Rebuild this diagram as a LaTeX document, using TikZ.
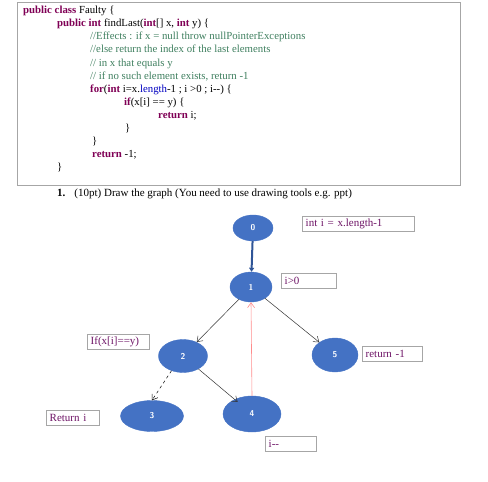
\documentclass[tikz,border=0pt]{standalone}
\usepackage{fontspec}
\setmainfont{Liberation Serif}
\usetikzlibrary{arrows.meta,shapes.geometric}

\definecolor{kwcol}{HTML}{7F0055}
\definecolor{cmtcol}{HTML}{3F7F5F}
\definecolor{fldcol}{HTML}{0000C0}
\definecolor{nodeblue}{HTML}{4472C4}
\definecolor{edgeblue}{HTML}{2F5597}
\definecolor{labcol}{HTML}{6E1466}

\newcommand{\kw}[1]{\textbf{\textcolor{kwcol}{#1}}}
\newcommand{\cmt}[1]{\textcolor{cmtcol}{#1}}

\begin{document}
\begin{tikzpicture}[
    x=1pt, y=-1pt,
    state/.style={ellipse, draw=nodeblue, fill=nodeblue, text=white, inner sep=0pt, font=\sffamily\bfseries\fontsize{8.5}{9}\selectfont},
    lbl/.style={rectangle, draw=gray!70, fill=white, anchor=north west, inner xsep=3.5pt, inner ysep=2pt, minimum height=15pt, align=left, text=labcol, font=\fontsize{11}{12}\selectfont},
    arrow/.style={-{Straight Barb[length=5pt,width=7pt]}, draw=black!80, line width=0.5pt},
    thickarrow/.style={-{Triangle[length=4pt,width=5pt]}, draw=edgeblue, line width=2pt},
    back/.style={-{Straight Barb[length=5pt,width=7pt]}, draw=red!45, line width=0.6pt}
]
\useasboundingbox (0,0) rectangle (488,482);

% Code box
\node[draw=gray!70, line width=1pt, minimum width=443pt, minimum height=183pt, anchor=north west] (codebox) at (17,2) {};
\node[anchor=north west, inner sep=0pt, align=left, font=\fontsize{10.8}{13.1}\selectfont] (code) at (23,6) {%
\kw{public class} Faulty \{\\
\hspace*{34pt}\kw{public int} findLast(\kw{int}[] x, \kw{int} y) \{\\
\hspace*{67pt}\cmt{//Effects : if x = null throw nullPointerExceptions}\\
\hspace*{67pt}\cmt{//else return the index of the last elements}\\
\hspace*{67pt}\cmt{// in x that equals y}\\
\hspace*{67pt}\cmt{// if no such element exists, return -1}\\
\hspace*{67pt}\kw{for}(\kw{int} i=x.\textcolor{fldcol}{length}-1 ; i >0 ; i-{}-) \{\\
\hspace*{101pt}\kw{if}(x[i] == y) \{\\
\hspace*{135pt}\kw{return} i;\\
\hspace*{102pt}\}\\
\hspace*{69pt}\}\\
\hspace*{69pt}\kw{return} -1;\\
\hspace*{34pt}\}};

% Question
\node[anchor=base west, inner sep=0pt, font=\fontsize{11}{12}\selectfont] (question) at (57,196) {\textbf{1.}\hspace{9pt}(10pt) Draw the graph (You need to use drawing tools e.g. ppt)};

% Nodes
\node[state, minimum width=40pt, minimum height=26pt] (n0) at (253,228) {0};
\node[state, minimum width=42pt, minimum height=30pt] (n1) at (251,287) {1};
\node[state, minimum width=49pt, minimum height=33pt] (n2) at (183,356) {2};
\node[state, minimum width=46pt, minimum height=34pt] (n5) at (335,355) {5};
\node[state, minimum width=63pt, minimum height=31pt] (n3) at (152,416) {3};
\node[state, minimum width=58pt, minimum height=36pt] (n4) at (252,414) {4};

% Labels
\node[lbl, text width=105pt] (linit) at (302,216) {int i = x.length-1};
\node[lbl, text width=48pt] (lcond) at (281,273) {i>0};
\node[lbl, text width=55pt] (lif) at (87,334) {If(x[i]==y)};
\node[lbl, text width=53pt] (lret) at (362,346) {return -1};
\node[lbl, text width=46pt] (lreti) at (46,410) {Return i};
\node[lbl, text width=44pt] (ldec) at (265,436) {i-{}-};

% Arrows
\draw[thickarrow] (n0) -- (n1);
\draw[arrow] (n1) -- (n2);
\draw[arrow] (n1) -- (n5);
\draw[arrow, dashed, draw=black] (n2.232) -- (n3.north) ;
\draw[arrow, shorten >=-4pt] (n2) -- (n4);
\draw[back] (n4.north) -- (n1.south);

\end{tikzpicture}
\end{document}
